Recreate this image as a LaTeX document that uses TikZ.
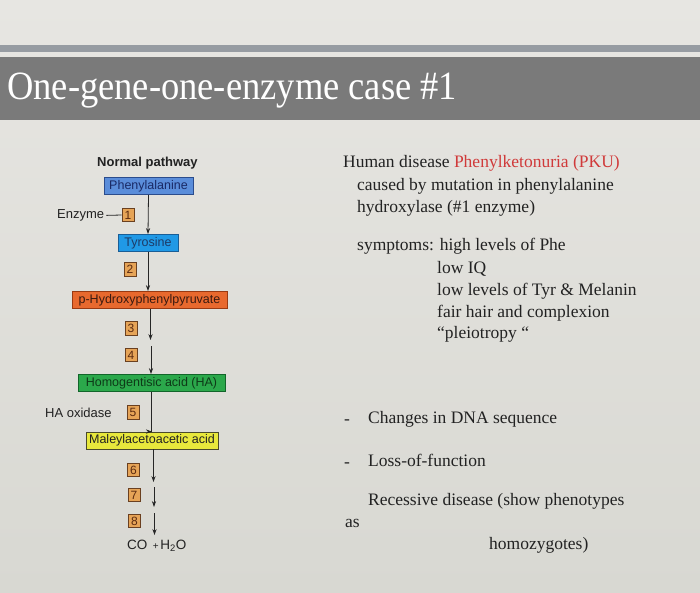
\documentclass[tikz,border=0pt]{standalone}
\usepackage{fontspec}
\setmainfont{Liberation Serif}
\newfontfamily\arialf{Liberation Sans}
\usetikzlibrary{arrows.meta}
\definecolor{bgtop}{HTML}{E7E6E2}
\definecolor{bgbot}{HTML}{D8D8D2}
\definecolor{bandc}{HTML}{979CA2}
\definecolor{barc}{HTML}{7A7A7A}
\definecolor{txt}{HTML}{222222}
\definecolor{pkured}{HTML}{D03A3A}
\definecolor{phefill}{HTML}{5A8DDA}
\definecolor{pheline}{HTML}{2B4C8C}
\definecolor{phetext}{HTML}{1A2A66}
\definecolor{tyrfill}{HTML}{2099E6}
\definecolor{tyrline}{HTML}{1A5E96}
\definecolor{tyrtext}{HTML}{1D3A66}
\definecolor{phpfill}{HTML}{E8692E}
\definecolor{phpline}{HTML}{9A3A12}
\definecolor{phptext}{HTML}{3A1A10}
\definecolor{hafill}{HTML}{2BA84B}
\definecolor{haline}{HTML}{12652A}
\definecolor{hatext}{HTML}{0E3A18}
\definecolor{maafill}{HTML}{E8E83C}
\definecolor{maaline}{HTML}{4A4A2A}
\definecolor{maatext}{HTML}{222222}
\definecolor{numfill}{HTML}{E6A457}
\definecolor{numline}{HTML}{6A4020}
\definecolor{numtext}{HTML}{5A2A10}
\tikzset{
  metbox/.style={rectangle, line width=0.9pt, inner sep=0pt, minimum height=17pt, font=\arialf\fontsize{12.5}{14}\selectfont},
  numbox/.style={rectangle, draw=numline, fill=numfill, text=numtext, line width=0.8pt, minimum width=12pt, minimum height=13.5pt, inner sep=0pt, font=\arialf\fontsize{12}{13}\selectfont},
  arr/.style={-{Stealth[length=6pt,width=4.2pt]}, line width=0.8pt, draw=black!85},
  plain/.style={line width=0.8pt, draw=black!85},
  body/.style={anchor=base west, inner sep=0pt, text=txt, font=\fontsize{17.5}{21}\selectfont},
  side/.style={anchor=base west, inner sep=0pt, text=txt, font=\arialf\fontsize{13}{15}\selectfont}
}
\begin{document}
\begin{tikzpicture}[x=1pt,y=-1pt]
\useasboundingbox (0,0) rectangle (700,592);
\shade[top color=bgtop, bottom color=bgbot] (0,0) rectangle (700,592);
\fill[bandc] (0,45) rectangle (700,52);
\fill[barc] (0,57) rectangle (700,120);
\node[anchor=base west, inner sep=0pt, text=white, font=\fontsize{36.5}{40}\selectfont, yscale=1.1] (title) at (7,99) {One-gene-one-enzyme case \#1};

% pathway
\node[side, font=\arialf\bfseries\fontsize{13}{15}\selectfont] (np) at (97,166) {Normal pathway};
\node[metbox, draw=pheline, fill=phefill, text=phetext, minimum width=89pt] (phe) at (148.5,186) {Phenylalanine};
\node[metbox, draw=tyrline, fill=tyrfill, text=tyrtext, minimum width=60pt] (tyr) at (148,243) {Tyrosine};
\node[metbox, draw=phpline, fill=phpfill, text=phptext, minimum width=155pt] (php) at (149.5,300) {p-Hydroxyphenylpyruvate};
\node[metbox, draw=haline, fill=hafill, text=hatext, minimum width=147pt] (ha) at (151.5,383) {Homogentisic acid (HA)};
\node[metbox, draw=maaline, fill=maafill, text=maatext, minimum width=132pt] (maa) at (152,440.5) {Maleylacetoacetic acid};

\node[numbox] (n1) at (128,215) {1};
\node[numbox] (n2) at (130,269.5) {2};
\node[numbox] (n3) at (131,328.5) {3};
\node[numbox] (n4) at (131,355) {4};
\node[numbox] (n5) at (133,412.5) {5};
\node[numbox] (n6) at (133.5,470) {6};
\node[numbox] (n7) at (134,495) {7};
\node[numbox] (n8) at (134.5,521) {8};

\node[side] (enz) at (57,218.5) {Enzyme};
\draw[plain] ([xshift=2pt]enz.east) -- (n1.west);
\node[side] (hao) at (45,417) {HA oxidase};

\node[side, font=\arialf\fontsize{13.5}{15}\selectfont] (co) at (127,549) {CO\hspace{5.5pt}{\fontsize{10}{11}\selectfont+}\hspace{1.5pt}H\textsubscript{2}O};

\coordinate (c3a) at (150.5,340);
\coordinate (c3b) at (151,346);
\coordinate (c6a) at (153.5,482);
\coordinate (c6b) at (154,487);
\coordinate (c7a) at (154,507);
\coordinate (c7b) at (154.5,513);
\coordinate (c8a) at (154.5,535);

\draw[arr] (phe.south) -- (tyr.north);
\draw[arr] (tyr.south) -- (tyr.south |- php.north);
\draw[arr] (php.south -| c3a) -- (c3a);
\draw[arr] (c3b) -- (c3b |- ha.north);
\draw[arr] (ha.south -| c3b) -- ++(0.5,0) |- (maa.north);
\draw[arr] (maa.south -| c6a) -- (c6a);
\draw[arr] (c6b) -- (c7a);
\draw[arr] (c7b) -- (c8a);

% right text
\node[body] (l1) at (343,167) {Human disease \textcolor{pkured}{Phenylketonuria (PKU)}};
\node[body] (l2) at (357,190) {caused by mutation in phenylalanine};
\node[body] (l3) at (357,212) {hydroxylase (\#1 enzyme)};
\node[body] (l4) at (357,250) {symptoms: high levels of Phe};
\node[body] (l5) at (437,273) {low IQ};
\node[body] (l6) at (437,295) {low levels of Tyr \& Melanin};
\node[body] (l7) at (437,317) {fair hair and complexion};
\node[body] (l8) at (437,338.5) {``pleiotropy ``};

\node[body] (d1) at (344,424) {-};
\node[body] (b1) at (368,423) {Changes in DNA sequence};
\node[body] (d2) at (344,467) {-};
\node[body] (b2) at (368,466) {Loss-of-function};
\node[body] (b3) at (368,505) {Recessive disease (show phenotypes};
\node[body] (b4) at (345,527) {as};
\node[body] (b5) at (489,549) {homozygotes)};
\end{tikzpicture}
\end{document}
